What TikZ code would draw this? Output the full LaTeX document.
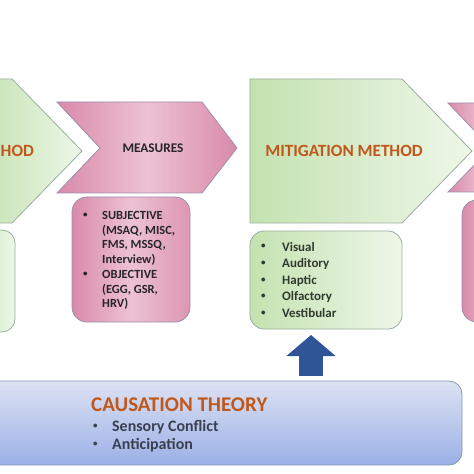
\documentclass[tikz,border=0pt]{standalone}
\usepackage{fontspec}
\setmainfont{Carlito}
\usetikzlibrary{arrows.meta}
\definecolor{grnL}{HTML}{C4E2B0}
\definecolor{grnR}{HTML}{EEF7E9}
\definecolor{grnE}{HTML}{9AAE9E}
\definecolor{pnkD}{HTML}{D98AAB}
\definecolor{pnkL}{HTML}{EDC2D3}
\definecolor{pnkE}{HTML}{9E8FAA}
\definecolor{bluT}{HTML}{DDE2F3}
\definecolor{bluB}{HTML}{9BB0E6}
\definecolor{bluE}{HTML}{8797B6}
\definecolor{orng}{HTML}{C0571B}
\definecolor{arrB}{HTML}{2F5597}
\definecolor{txtD}{HTML}{262626}
\definecolor{txtG}{HTML}{2F3A2E}
\definecolor{txtB}{HTML}{3A4050}
\newcommand{\sbul}[1]{\makebox[#1][l]{\raisebox{0.18em}{\fontsize{9}{9}\selectfont\textbullet}}}
\newcommand{\nbul}[1]{\makebox[#1][l]{}}
\tikzset{
  grnshape/.style={draw=grnE, line width=0.8bp, left color=grnL, right color=grnR},
  pnkshape/.style={draw=pnkE, line width=0.8bp, left color=pnkD, right color=pnkD, middle color=pnkL},
  pnkbox/.style={draw=pnkE, line width=0.8bp, left color=pnkD, right color=pnkD!80!pnkL, middle color=pnkL},
  bluebox/.style={draw=bluE, line width=0.8bp, top color=bluT, bottom color=bluB},
  title/.style={font=\bfseries\fontsize{17.2}{19}\selectfont, text=orng, inner sep=0pt},
  head/.style={font=\bfseries\fontsize{13.3}{15}\selectfont, text=txtD, inner sep=0pt},
  listtxt/.style={align=left, inner sep=0pt, anchor=north west},
}
\begin{document}
\begin{tikzpicture}[x=1bp,y=-1bp]
\useasboundingbox (0,0) rectangle (474,474);
\begin{scope}
\clip (0,0) rectangle (474,474);
% left green arrow (cut)
\path[grnshape] (-20,79) -- (12,79) -- (82,151) -- (12,223) -- (-20,223) -- cycle;
\node[title, anchor=west] (lefttitle) at (0.5,151) {HOD};
% left green box
\path[grnshape, rounded corners=13bp] (-30,230) rectangle (15,332);
% measures chevron
\path[pnkshape] (57,102) -- (202,102) -- (237,148) -- (202,193) -- (57,193) -- (100,148) -- cycle;
\node[head] (measures) at (153,148) {MEASURES};
% measures box
\path[pnkbox, rounded corners=15bp] (72,197) rectangle (190,322);
\node[listtxt, font=\bfseries\fontsize{12.5}{14.8}\selectfont, text=txtD] (mlist) at (83,211) {%
\sbul{19bp}SUBJECTIVE\\
\nbul{19bp}(MSAQ, MISC,\\
\nbul{19bp}FMS, MSSQ,\\
\nbul{19bp}Interview)\\
\sbul{19bp}OBJECTIVE\\
\nbul{19bp}(EGG, GSR,\\
\nbul{19bp}HRV)};
% mitigation arrow
\path[grnshape] (250,79) -- (402,79) -- (472,151) -- (402,223) -- (250,223) -- cycle;
\node[title] (mitig) at (344,151) {MITIGATION METHOD};
% mitigation list box
\path[grnshape, rounded corners=14bp] (250,231) rectangle (402,329);
\node[listtxt, font=\bfseries\fontsize{13}{16.6}\selectfont, text=txtG] (vlist) at (261,242) {%
\sbul{21bp}Visual\\
\sbul{21bp}Auditory\\
\sbul{21bp}Haptic\\
\sbul{21bp}Olfactory\\
\sbul{21bp}Vestibular};
\coordinate (vbot) at (311,335);
% right pink chevron (cut)
\path[pnkshape] (448,103) -- (520,103) -- (520,192) -- (448,192) -- (491,148) -- cycle;
\path[pnkbox, rounded corners=15bp] (462,200) rectangle (540,322);
% causation box
\path[bluebox, rounded corners=13bp] (-30,381) rectangle (462,465);
\node[font=\bfseries\fontsize{21}{23}\selectfont, text=orng, inner sep=0pt, anchor=west] (caus) at (91,405) {CAUSATION THEORY};
\node[listtxt, font=\bfseries\fontsize{16}{18}\selectfont, text=txtB] (clist) at (93,420) {%
\sbul{19bp}Sensory Conflict\\
\sbul{19bp}Anticipation};
\coordinate (ctop) at (311,376);
% blue arrow
\draw[arrB, line width=24bp, -{Triangle[width=48bp,length=21bp]}] (ctop) -- (vbot);
\end{scope}
\end{tikzpicture}
\end{document}
